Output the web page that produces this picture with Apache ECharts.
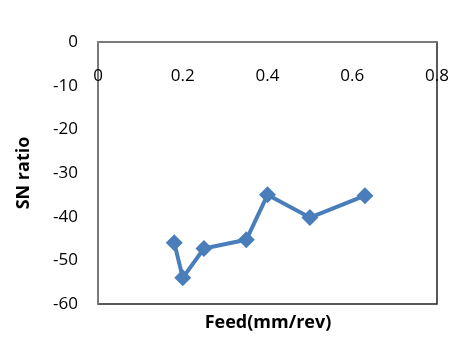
<!DOCTYPE html>
<html><head><meta charset="utf-8">
<script src="https://cdn.jsdelivr.net/npm/echarts@6/dist/echarts.min.js"></script>
<style>html,body{margin:0;padding:0;background:#fff}#c{width:474px;height:350px}</style>
</head><body><div id="c"></div>
<script>
var feed = [0.18, 0.2, 0.25, 0.35, 0.4, 0.5, 0.63];
var snRatio = [-46, -54, -47.3, -45.3, -35, -40.2, -35.2];
var xTicks = [0, 0.2, 0.4, 0.6, 0.8];
var yTicks = [0, -10, -20, -30, -40, -50, -60];
var xTitle = 'Feed(mm/rev)';
var yTitle = 'SN ratio';

var chart = echarts.init(document.getElementById('c'));
var font = 'Open Sans, Liberation Sans, sans-serif';
chart.setOption({
  animation: false,
  grid: {left: 98, right: 37, top: 42, bottom: 46, show: true, borderColor: '#222', borderWidth: 1.5, backgroundColor: 'transparent'},
  xAxis: {
    type: 'value', min: 0, max: 0.8, interval: 0.2, position: 'top',
    axisLine: {show: true, onZero: false, lineStyle: {color: '#868686', width: 1.5}},
    axisTick: {show: false},
    splitLine: {show: false},
    axisLabel: {inside: true, margin: 26, fontSize: 17, fontFamily: font, color: '#000',
      formatter: function(v){ return String(Math.round(v*10)/10); }}
  },
  yAxis: {
    type: 'value', min: -60, max: 0, interval: 10,
    axisLine: {show: true, lineStyle: {color: '#868686', width: 1.5}},
    axisTick: {show: false},
    splitLine: {show: false},
    axisLabel: {margin: 20, fontSize: 17, fontFamily: font, color: '#000'},
    name: yTitle, nameLocation: 'middle', nameGap: 65, nameRotate: 90,
    nameTextStyle: {fontSize: 18, fontWeight: 'bold', fontFamily: font, color: '#000'}
  },
  graphic: [{type: 'text', x: 268, y: 323, style: {text: xTitle, align: 'center', verticalAlign: 'middle', fontSize: 18, fontWeight: 'bold', fontFamily: font, fill: '#000'}}],
  series: [{
    type: 'line',
    data: feed.map(function(f, i){ return [f, snRatio[i]]; }),
    symbol: 'diamond', symbolSize: 17,
    lineStyle: {color: '#4a7ebb', width: 4},
    itemStyle: {color: '#4a7ebb'}
  }]
});
</script></body></html>
